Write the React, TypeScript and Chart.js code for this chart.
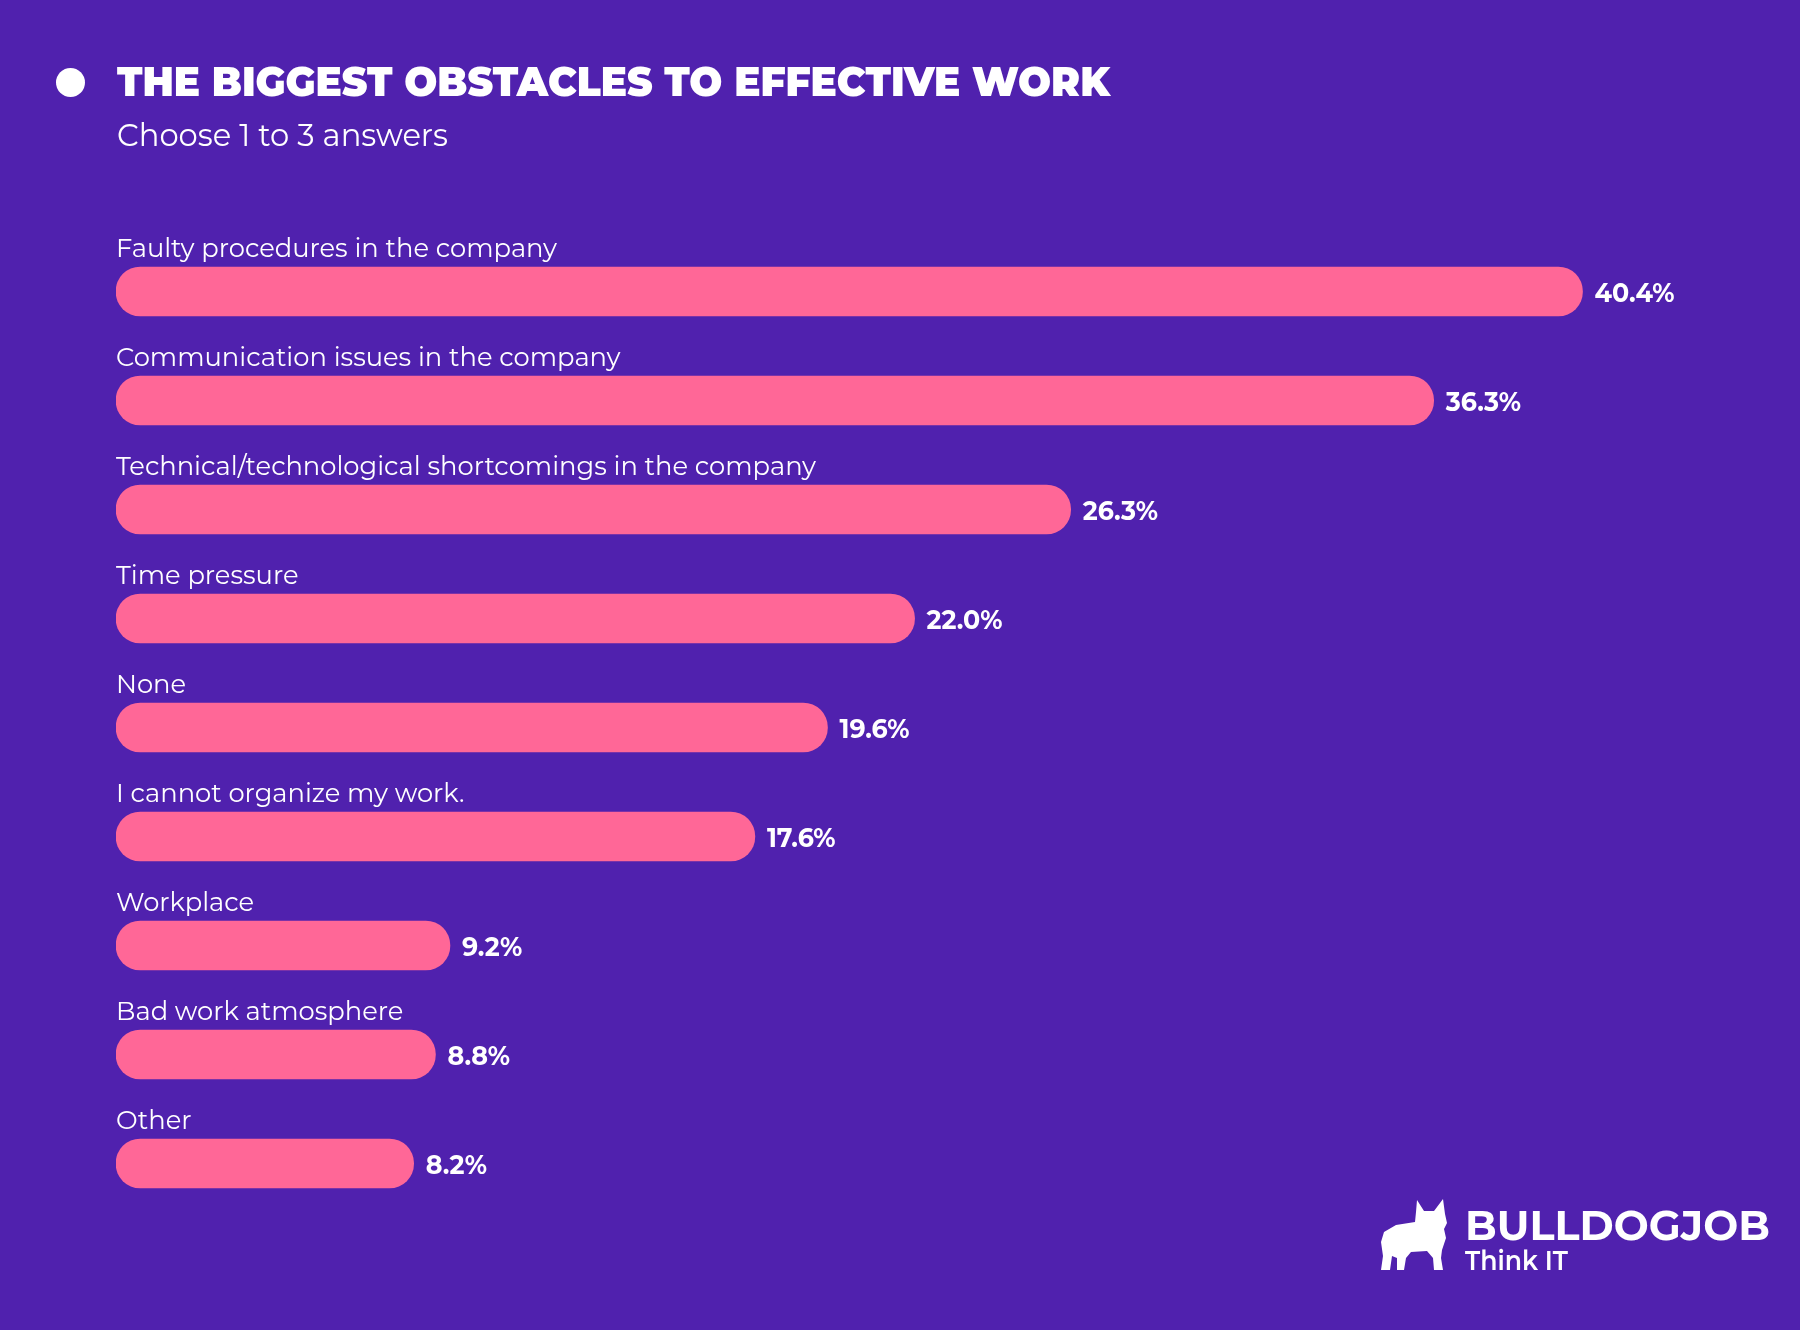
import React, { useEffect, useRef } from "react";
import { Chart, registerables } from "chart.js";

Chart.register(...registerables);

const title = "THE BIGGEST OBSTACLES TO EFFECTIVE WORK";
const subtitle = "Choose 1 to 3 answers";
const categories = [
  "Faulty procedures in the company",
  "Communication issues in the company",
  "Technical/technological shortcomings in the company",
  "Time pressure",
  "None",
  "I cannot organize my work.",
  "Workplace",
  "Bad work atmosphere",
  "Other",
];
const values = [40.4, 36.3, 26.3, 22.0, 19.6, 17.6, 9.2, 8.8, 8.2];
const valueLabels = values.map((v) => v.toFixed(1) + "%");
const brand = "BULLDOGJOB";
const tagline = "Think IT";

const BG = "#5021AE";
const PINK = "#FF6797";
const FONT = "'Montserrat', 'Open Sans', sans-serif";

function drawFit(ctx: CanvasRenderingContext2D, text: string, x: number, y: number, font: string, width: number) {
  ctx.font = font;
  const w = ctx.measureText(text).width;
  ctx.save();
  ctx.translate(x, y);
  ctx.scale(width / w, 1);
  ctx.fillText(text, 0, 0);
  ctx.restore();
}

const dogPts = [
  [47, 10], [54, 21], [64, 21], [73, 9], [75, 24], [77, 33], [74, 39], [76, 48],
  [72, 60], [71, 68], [73, 80], [64, 80], [63, 68], [57, 61], [41, 62], [36, 68],
  [34, 80], [27, 80], [27, 68], [22, 66], [20, 80], [11, 80], [13, 66], [11, 52],
  [14, 42], [26, 35], [45, 32], [46, 22],
];

const decorPlugin = {
  id: "decor",
  beforeDraw(chart: any) {
    const ctx = chart.ctx as CanvasRenderingContext2D;
    ctx.save();
    ctx.fillStyle = BG;
    ctx.fillRect(0, 0, chart.width, chart.height);
    ctx.restore();
  },
  afterDatasetsDraw(chart: any) {
    const ctx = chart.ctx as CanvasRenderingContext2D;
    ctx.save();
    ctx.fillStyle = "#FFFFFF";
    ctx.textBaseline = "alphabetic";
    ctx.textAlign = "left";

    // title bullet
    ctx.beginPath();
    ctx.arc(70.5, 82.5, 14.5, 0, Math.PI * 2);
    ctx.fill();
    drawFit(ctx, title, 117, 96, `900 41px ${FONT}`, 993);
    drawFit(ctx, subtitle, 117, 146, `400 32px ${FONT}`, 331);

    // category labels + values
    const meta = chart.getDatasetMeta(0);
    const catFont = `400 26.5px ${FONT}`;
    ctx.font = catFont;
    const catStretch = 441 / ctx.measureText(categories[0]).width;
    const valFont = `700 27px ${FONT}`;
    ctx.font = valFont;
    const valStretch = 80 / ctx.measureText(valueLabels[0]).width;
    const left = chart.chartArea.left;
    meta.data.forEach((bar: any, i: number) => {
      const top = bar.y - bar.height / 2;
      ctx.font = catFont;
      ctx.save();
      ctx.translate(left, top - 10);
      ctx.scale(catStretch, 1);
      ctx.fillText(categories[i], 0, 0);
      ctx.restore();
      ctx.font = valFont;
      ctx.save();
      ctx.translate(bar.x + 12, bar.y + 10);
      ctx.scale(valStretch, 1);
      ctx.fillText(valueLabels[i], 0, 0);
      ctx.restore();
    });

    // logo
    ctx.beginPath();
    dogPts.forEach(([x, y], i) => {
      const px = 1370 + x;
      const py = 1190 + y;
      if (i === 0) ctx.moveTo(px, py);
      else ctx.lineTo(px, py);
    });
    ctx.closePath();
    ctx.fill();
    drawFit(ctx, brand, 1465, 1240, `700 42px ${FONT}`, 305);
    drawFit(ctx, tagline, 1465, 1270, `600 28px ${FONT}`, 103);
    ctx.restore();
  },
};

export default function App() {
  const ref = useRef<HTMLCanvasElement | null>(null);
  useEffect(() => {
    document.body.style.margin = "0";
    const canvas = ref.current!;
    const chart = new Chart(canvas, {
      type: "bar",
      data: {
        labels: categories,
        datasets: [
          {
            data: values,
            backgroundColor: PINK,
            barThickness: 49,
            borderRadius: 25,
            borderSkipped: false,
          },
        ],
      },
      options: {
        indexAxis: "y",
        responsive: false,
        animation: false,
        layout: { padding: { left: 116, right: 50.5, top: 237, bottom: 112 } },
        scales: {
          x: { display: false, min: 0, max: 45 },
          y: { display: false },
        },
        plugins: {
          legend: { display: false },
          tooltip: { enabled: false },
          title: { display: false },
        },
      },
      plugins: [decorPlugin],
    } as any);
    return () => chart.destroy();
  }, []);
  return (
    <div style={{ position: "absolute", left: 0, top: 0, width: 1800, height: 1330, background: BG }}>
      <canvas ref={ref} width={1800} height={1330} style={{ width: 1800, height: 1330, display: "block" }} />
    </div>
  );
}
